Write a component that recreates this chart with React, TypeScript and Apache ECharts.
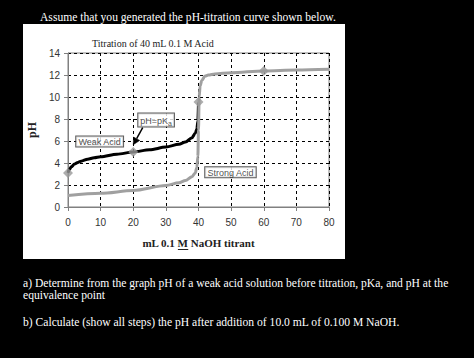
import React, { useEffect, useRef } from "react";
import * as echarts from "echarts";

// ---- data ----
const weakAcidX = [0, 0.5, 1, 2, 3, 4, 6, 8, 10, 15, 20, 25, 30, 34, 36, 38, 39, 39.5, 39.8, 40];
const weakAcidPH = [3.1, 3.45, 3.65, 3.9, 4.05, 4.17, 4.35, 4.47, 4.56, 4.8, 5.0, 5.2, 5.45, 5.7, 5.9, 6.3, 6.7, 7.1, 7.8, 9.5];
const strongAcidX = [0, 10, 20, 30, 34, 36, 38, 39, 39.5, 39.8, 40, 40.2, 40.5, 41, 42, 43, 45, 50, 60, 70, 80];
const strongAcidPH = [1.05, 1.24, 1.5, 1.95, 2.2, 2.4, 2.75, 3.1, 3.6, 4.6, 7.0, 10.0, 11.0, 11.5, 11.9, 12.0, 12.1, 12.2, 12.37, 12.45, 12.52];
const markerX = [0, 20, 40, 60];
const markerPH = [3.1, 5.0, 9.55, 12.37];
const xTicks = [0, 10, 20, 30, 40, 50, 60, 70, 80];
const yTicks = [0, 2, 4, 6, 8, 10, 12, 14];

const annotationText = ["Weak Acid", "{n|pH=pK}{s|a}", "Strong Acid"];
const annotationX = [9.7, 27.0, 49.8];
const annotationY = [5.96, 7.9, 3.16];
const arrowFrom = [22.9, 7.21];
const arrowTo = [20.0, 5.65];

const titleText = "Titration of 40 mL 0.1 M Acid";
const xAxisTitle = "mL 0.1 M NaOH titrant";
const heading = "Assume that you generated the pH-titration curve shown below.";
const questionA1 = "a) Determine from the graph pH of a weak acid solution before titration, pKa, and pH at the";
const questionA2 = "equivalence point";
const questionB = "b) Calculate (show all steps) the pH after addition of 10.0 mL of 0.100 M NaOH.";

const SERIF = '"Liberation Serif", "Times New Roman", serif';
const SANS = '"Liberation Sans", Arial, sans-serif';

function measure(text: string, font: string): number {
  const c = document.createElement("canvas").getContext("2d");
  if (!c) return text.length * 5;
  c.font = font;
  return c.measureText(text).width;
}

export default function App() {
  const ref = useRef<HTMLDivElement>(null);

  useEffect(() => {
    document.body.style.margin = "0";
    document.body.style.background = "#000";
    if (!ref.current) return;
    const chart = echarts.init(ref.current, undefined, { renderer: "svg" });

    const gridLeft = 68;
    const gridRight = 145;
    const plotCenterX = gridLeft + (474 - gridLeft - gridRight) / 2;
    const nameFont = `bold 11px ${SERIF}`;
    const fullW = measure(xAxisTitle, nameFont);
    const preW = measure("mL 0.1 ", nameFont);
    const mW = measure("M", nameFont);
    const mStart = plotCenterX - fullW / 2 + preW;
    const textFont = `11.6px ${SERIF}`;

    const option: any = {
      animation: false,
      backgroundColor: "#000",
      title: {
        text: titleText,
        left: 92,
        top: 38,
        padding: 0,
        textStyle: { fontFamily: SERIF, fontSize: 10, fontWeight: "normal", color: "#222" },
      },
      grid: {
        left: gridLeft,
        right: gridRight,
        top: 53,
        bottom: 151,
        show: true,
        borderColor: "#808080",
        borderWidth: 1,
        backgroundColor: "transparent",
      },
      xAxis: {
        type: "value",
        min: xTicks[0],
        max: xTicks[xTicks.length - 1],
        interval: 10,
        name: xAxisTitle,
        nameLocation: "middle",
        nameGap: 30,
        nameTextStyle: { fontFamily: SERIF, fontSize: 11, fontWeight: "bold", color: "#222" },
        axisLine: { show: true, lineStyle: { color: "#808080", width: 1 } },
        axisTick: { show: true, length: 4, lineStyle: { color: "#808080" } },
        axisLabel: { fontFamily: SANS, fontSize: 10, color: "#333", margin: 10 },
        splitLine: { show: true, lineStyle: { color: "#000", width: 1, type: [3, 3] } },
      },
      yAxis: {
        type: "value",
        min: yTicks[0],
        max: yTicks[yTicks.length - 1],
        interval: 2,
        name: "pH",
        nameLocation: "middle",
        nameGap: 26,
        nameTextStyle: { fontFamily: SERIF, fontSize: 12, fontWeight: "bold", color: "#222" },
        axisLine: { show: true, lineStyle: { color: "#808080", width: 1 } },
        axisTick: { show: true, length: 4, lineStyle: { color: "#808080" } },
        axisLabel: { fontFamily: SANS, fontSize: 10, color: "#333", margin: 8 },
        splitLine: { show: true, lineStyle: { color: "#000", width: 1, type: [3, 3] } },
      },
      series: [
        {
          name: "Weak Acid",
          type: "line",
          data: weakAcidX.map((x, i) => [x, weakAcidPH[i]]),
          showSymbol: false,
          smooth: 0.3,
          smoothMonotone: "x",
          lineStyle: { color: "#000", width: 3 },
          z: 2,
        },
        {
          name: "Strong Acid",
          type: "line",
          data: strongAcidX.map((x, i) => [x, strongAcidPH[i]]),
          showSymbol: false,
          smooth: 0.3,
          smoothMonotone: "x",
          lineStyle: { color: "#a0a0a0", width: 3 },
          z: 3,
        },
        {
          name: "points",
          type: "scatter",
          data: markerX.map((x, i) => [x, markerPH[i]]),
          symbol: "diamond",
          symbolSize: 10,
          itemStyle: { color: "#999" },
          z: 4,
        },
        {
          name: "arrow",
          type: "custom",
          silent: true,
          z: 7,
          data: [[arrowFrom[0], arrowFrom[1], arrowTo[0], arrowTo[1]]],
          renderItem: (params: any, api: any) => {
            const p1 = api.coord([api.value(0), api.value(1)]);
            const p2 = api.coord([api.value(2), api.value(3)]);
            const dx = p2[0] - p1[0];
            const dy = p2[1] - p1[1];
            const len = Math.sqrt(dx * dx + dy * dy) || 1;
            const ux = dx / len;
            const uy = dy / len;
            const headL = 7;
            const headW = 3.5;
            const bx = p2[0] - ux * headL;
            const by = p2[1] - uy * headL;
            return {
              type: "group",
              children: [
                {
                  type: "line",
                  shape: { x1: p1[0], y1: p1[1], x2: bx, y2: by },
                  style: { stroke: "#000", lineWidth: 1.5 },
                },
                {
                  type: "polygon",
                  shape: {
                    points: [
                      [p2[0], p2[1]],
                      [bx - uy * headW, by + ux * headW],
                      [bx + uy * headW, by - ux * headW],
                    ],
                  },
                  style: { fill: "#000", stroke: "#000", lineWidth: 0.5 },
                },
              ],
            };
          },
        },
        {
          name: "annotations",
          type: "scatter",
          data: annotationX.map((x, i) => ({ value: [x, annotationY[i]], label: { formatter: annotationText[i] } })),
          symbolSize: 0,
          silent: true,
          label: {
            show: true,
            position: "inside",
            fontFamily: SANS,
            fontSize: 9,
            color: "#222",
            backgroundColor: "#fff",
            borderColor: "#333",
            borderWidth: 1,
            padding: [1, 2, 0, 2],
            rich: {
              n: { fontFamily: SANS, fontSize: 9, color: "#222", lineHeight: 12 },
              s: { fontFamily: SANS, fontSize: 7, color: "#222", lineHeight: 12, verticalAlign: "bottom", padding: [4, 0, 0, 0] },
            },
          },
          z: 6,
        },
      ],
      graphic: [
        { type: "rect", z: -100, shape: { x: 23, y: 24, width: 322, height: 235 }, style: { fill: "#fff" } },
        {
          type: "text", z: 10, x: 40, y: 17,
          style: { text: heading, fill: "#fff", font: textFont, textVerticalAlign: "middle" },
        },
        {
          type: "text", z: 10, x: 23, y: 283,
          style: { text: questionA1, fill: "#fff", font: textFont, textVerticalAlign: "middle" },
        },
        {
          type: "text", z: 10, x: 23, y: 295.5,
          style: { text: questionA2, fill: "#fff", font: textFont, textVerticalAlign: "middle" },
        },
        {
          type: "text", z: 10, x: 23, y: 322,
          style: { text: questionB, fill: "#fff", font: textFont, textVerticalAlign: "middle" },
        },
        {
          type: "line", z: 10,
          shape: { x1: mStart, y1: 249.5, x2: mStart + mW, y2: 249.5 },
          style: { stroke: "#222", lineWidth: 1 },
        },
      ],
    };
    chart.setOption(option);
    return () => chart.dispose();
  }, []);

  return <div ref={ref} style={{ width: 474, height: 358, position: "absolute", left: 0, top: 0 }} />;
}
